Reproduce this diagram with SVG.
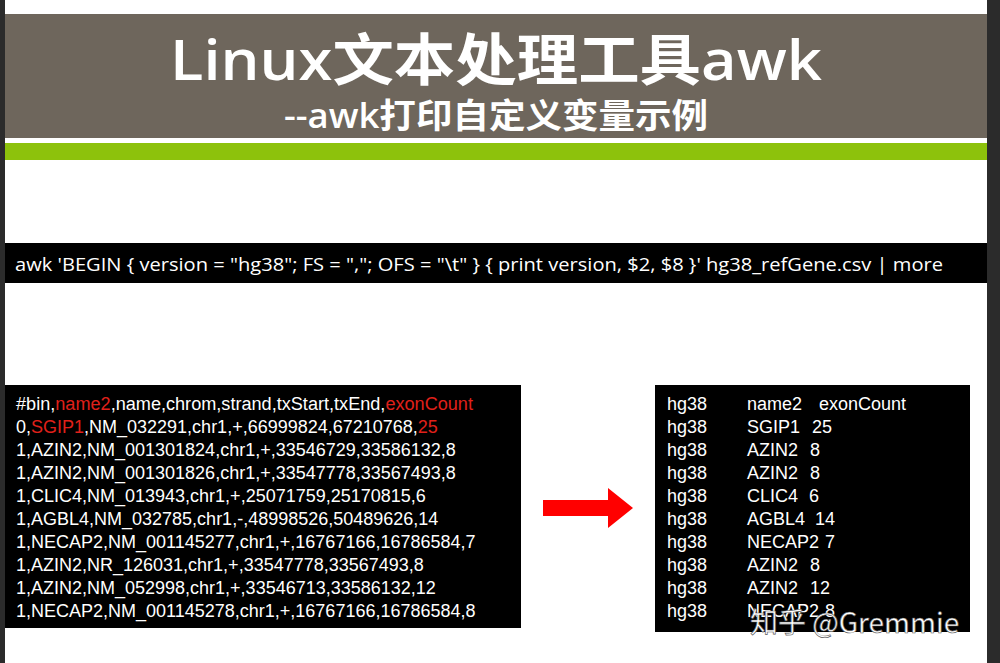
<svg xmlns="http://www.w3.org/2000/svg" width="1000" height="663" viewBox="0 0 1000 663">
<style>
.t{font-family:"Liberation Sans",Arial,sans-serif;fill:#fff}
.c{font-family:"Open Sans","Noto Sans CJK SC",sans-serif;fill:#fff}
.r{fill:#e0201a}
</style>
<rect width="1000" height="663" fill="#fff"/>
<rect x="0" y="0" width="5" height="663" fill="#2b2b2b"/>
<rect x="987" y="0" width="13" height="663" fill="#2b2b2b"/>
<g id="title">
<rect x="5" y="14" width="982" height="124" fill="#6e665c"/>
<rect x="5" y="143" width="982" height="17" fill="#8dc20c"/>
<text class="c" x="496" y="80" font-size="56" font-weight="600" text-anchor="middle" textLength="652" lengthAdjust="spacingAndGlyphs">Linux文本处理工具awk</text>
<text class="c" x="496" y="128" font-size="34" font-weight="600" text-anchor="middle" textLength="424" lengthAdjust="spacingAndGlyphs">--awk打印自定义变量示例</text>
</g>
<g id="command">
<rect x="5" y="243" width="982" height="40" fill="#000"/>
<text class="c" x="15" y="271" font-size="19" textLength="928" lengthAdjust="spacingAndGlyphs">awk 'BEGIN { version = "hg38"; FS = ","; OFS = "\t" } { print version, $2, $8 }' hg38_refGene.csv | more</text>
</g>
<g id="input">
<rect x="5" y="385" width="516" height="243" fill="#000"/>
<g class="t" font-size="18">
<text x="16" y="410" textLength="457" lengthAdjust="spacingAndGlyphs">#bin,<tspan class="r">name2</tspan>,name,chrom,strand,txStart,txEnd,<tspan class="r">exonCount</tspan></text>
<text x="16" y="433">0,<tspan class="r">SGIP1</tspan>,NM_032291,chr1,+,66999824,67210768,<tspan class="r">25</tspan></text>
<text x="16" y="456">1,AZIN2,NM_001301824,chr1,+,33546729,33586132,8</text>
<text x="16" y="479">1,AZIN2,NM_001301826,chr1,+,33547778,33567493,8</text>
<text x="16" y="502">1,CLIC4,NM_013943,chr1,+,25071759,25170815,6</text>
<text x="16" y="525">1,AGBL4,NM_032785,chr1,-,48998526,50489626,14</text>
<text x="16" y="548">1,NECAP2,NM_001145277,chr1,+,16767166,16786584,7</text>
<text x="16" y="571">1,AZIN2,NR_126031,chr1,+,33547778,33567493,8</text>
<text x="16" y="594">1,AZIN2,NM_052998,chr1,+,33546713,33586132,12</text>
<text x="16" y="617">1,NECAP2,NM_001145278,chr1,+,16767166,16786584,8</text>
</g>
</g>
<g id="connectors">
<polygon points="543,500 608,500 608,488 633,508 608,528 608,516 543,516" fill="#f00"/>
</g>
<g id="output">
<rect x="655" y="385" width="315" height="247" fill="#000"/>
<g class="t" font-size="18">
<text x="667" y="410">hg38</text><text x="747" y="410">name2</text><text x="819" y="410">exonCount</text>
<text x="667" y="433">hg38</text><text x="747" y="433">SGIP1</text><text x="812" y="433">25</text>
<text x="667" y="456">hg38</text><text x="747" y="456">AZIN2</text><text x="810" y="456">8</text>
<text x="667" y="479">hg38</text><text x="747" y="479">AZIN2</text><text x="810" y="479">8</text>
<text x="667" y="502">hg38</text><text x="747" y="502">CLIC4</text><text x="809" y="502">6</text>
<text x="667" y="525">hg38</text><text x="747" y="525">AGBL4</text><text x="815" y="525">14</text>
<text x="667" y="548">hg38</text><text x="747" y="548">NECAP2</text><text x="825" y="548">7</text>
<text x="667" y="571">hg38</text><text x="747" y="571">AZIN2</text><text x="810" y="571">8</text>
<text x="667" y="594">hg38</text><text x="747" y="594">AZIN2</text><text x="810" y="594">12</text>
<text x="667" y="617">hg38</text><text x="747" y="617">NECAP2</text><text x="825" y="617">8</text>
</g>
<text x="750" y="633" font-size="28" font-family="'Noto Sans CJK SC',sans-serif" fill="#fff" stroke="#555" stroke-width="0.6">知乎 @Gremmie</text>
</g>
</svg>
